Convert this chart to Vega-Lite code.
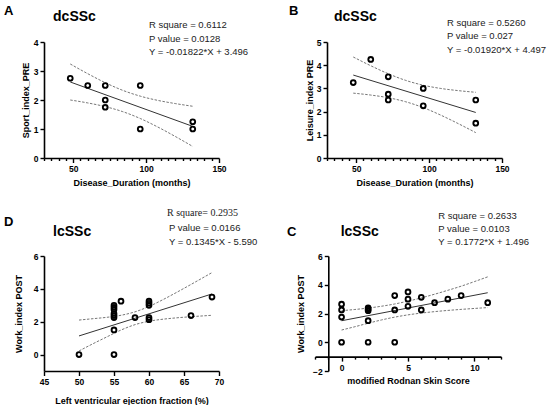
{
  "$schema": "https://vega.github.io/schema/vega-lite/v6.json",
  "background": "white",
  "padding": {"left": 3, "top": 5, "right": 0, "bottom": 0},
  "spacing": 21,
  "datasets": {
    "ptsA": [{"x":48,"y":2.75},{"x":60,"y":2.5},{"x":72,"y":2.5},{"x":72,"y":2.0},{"x":72,"y":1.75},{"x":96,"y":2.5},{"x":96,"y":1.0},{"x":132,"y":1.25},{"x":132,"y":1.0}],
    "fitA": [{"x":48,"y":2.621},{"x":132,"y":1.091}],
    "bandA": [
      {"x":48,"y":3.242,"s":"u"},{"x":60,"y":2.907,"s":"u"},{"x":72,"y":2.597,"s":"u"},{"x":84,"y":2.333,"s":"u"},{"x":96,"y":2.133,"s":"u"},{"x":108,"y":1.987,"s":"u"},{"x":120,"y":1.877,"s":"u"},{"x":132,"y":1.784,"s":"u"},
      {"x":48,"y":2.0,"s":"l"},{"x":60,"y":1.899,"s":"l"},{"x":72,"y":1.772,"s":"l"},{"x":84,"y":1.598,"s":"l"},{"x":96,"y":1.362,"s":"l"},{"x":108,"y":1.069,"s":"l"},{"x":120,"y":0.743,"s":"l"},{"x":132,"y":0.398,"s":"l"}
    ],
    "ptsB": [{"x":48,"y":3.25},{"x":60,"y":4.25},{"x":72,"y":3.5},{"x":72,"y":2.75},{"x":72,"y":2.5},{"x":96,"y":3.0},{"x":96,"y":2.25},{"x":132,"y":2.5},{"x":132,"y":1.5}],
    "fitB": [{"x":48,"y":3.575},{"x":132,"y":1.963}],
    "bandB": [
      {"x":48,"y":4.354,"s":"u"},{"x":60,"y":3.977,"s":"u"},{"x":72,"y":3.632,"s":"u"},{"x":84,"y":3.345,"s":"u"},{"x":96,"y":3.137,"s":"u"},{"x":108,"y":2.998,"s":"u"},{"x":120,"y":2.904,"s":"u"},{"x":132,"y":2.832,"s":"u"},
      {"x":48,"y":2.796,"s":"l"},{"x":60,"y":2.713,"s":"l"},{"x":72,"y":2.598,"s":"l"},{"x":84,"y":2.423,"s":"l"},{"x":96,"y":2.171,"s":"l"},{"x":108,"y":1.848,"s":"l"},{"x":120,"y":1.482,"s":"l"},{"x":132,"y":1.094,"s":"l"}
    ],
    "ptsD": [{"x":50,"y":0},{"x":55,"y":0},{"x":55,"y":1.5},{"x":55,"y":2.25},{"x":55,"y":2.375},{"x":55,"y":2.5},{"x":55,"y":2.75},{"x":55,"y":2.875},{"x":55,"y":3.0},{"x":56,"y":3.25},{"x":58,"y":2.25},{"x":60,"y":2.125},{"x":60,"y":2.25},{"x":60,"y":3.0},{"x":60,"y":3.125},{"x":60,"y":3.25},{"x":66,"y":2.375},{"x":69,"y":3.5}],
    "fitD": [{"x":50,"y":1.135},{"x":69,"y":3.69}],
    "bandD": [
      {"x":50,"y":2.1,"s":"u"},{"x":52,"y":2.184,"s":"u"},{"x":54,"y":2.269,"s":"u"},{"x":56,"y":2.392,"s":"u"},{"x":58,"y":2.601,"s":"u"},{"x":60,"y":2.93,"s":"u"},{"x":62,"y":3.345,"s":"u"},{"x":64,"y":3.798,"s":"u"},{"x":66,"y":4.269,"s":"u"},{"x":68,"y":4.749,"s":"u"},{"x":69,"y":4.99,"s":"u"},
      {"x":50,"y":0.22,"s":"l"},{"x":52,"y":0.66,"s":"l"},{"x":54,"y":1.08,"s":"l"},{"x":56,"y":1.492,"s":"l"},{"x":58,"y":1.821,"s":"l"},{"x":60,"y":2.03,"s":"l"},{"x":62,"y":2.153,"s":"l"},{"x":64,"y":2.238,"s":"l"},{"x":66,"y":2.305,"s":"l"},{"x":68,"y":2.363,"s":"l"},{"x":69,"y":2.391,"s":"l"}
    ],
    "ptsC": [{"x":0,"y":2.65},{"x":0,"y":2.25},{"x":0,"y":1.75},{"x":0,"y":0},{"x":2,"y":2.4},{"x":2,"y":2.3},{"x":2,"y":2.2},{"x":2,"y":1.5},{"x":2,"y":0},{"x":4,"y":3.25},{"x":4,"y":2.25},{"x":4,"y":0},{"x":5,"y":3.5},{"x":5,"y":3.0},{"x":5,"y":2.5},{"x":6,"y":3.125},{"x":6,"y":2.25},{"x":7,"y":2.75},{"x":8,"y":3.0},{"x":9,"y":3.25},{"x":11,"y":2.75}],
    "fitC": [{"x":0,"y":1.496},{"x":11,"y":3.445}],
    "bandC": [
      {"x":0,"y":2.196,"s":"u"},{"x":1,"y":2.279,"s":"u"},{"x":2,"y":2.379,"s":"u"},{"x":3,"y":2.505,"s":"u"},{"x":4,"y":2.663,"s":"u"},{"x":5,"y":2.859,"s":"u"},{"x":6,"y":3.088,"s":"u"},{"x":7,"y":3.342,"s":"u"},{"x":8,"y":3.614,"s":"u"},{"x":9,"y":3.9,"s":"u"},{"x":10,"y":4.22,"s":"u"},{"x":11,"y":4.55,"s":"u"},
      {"x":0,"y":0.85,"s":"l"},{"x":1,"y":1.08,"s":"l"},{"x":2,"y":1.321,"s":"l"},{"x":3,"y":1.551,"s":"l"},{"x":4,"y":1.747,"s":"l"},{"x":5,"y":1.905,"s":"l"},{"x":6,"y":2.03,"s":"l"},{"x":7,"y":2.13,"s":"l"},{"x":8,"y":2.214,"s":"l"},{"x":9,"y":2.286,"s":"l"},{"x":10,"y":2.351,"s":"l"},{"x":11,"y":2.412,"s":"l"}
    ]
  },
  "vconcat": [
    {
      "spacing": 39,
      "hconcat": [
        {
          "width": 175,
          "height": 116,
          "layer": [
            {
              "encoding": {
                "x": {"field": "x", "type": "quantitative", "title": "Disease_Duration (months)", "scale": {"domain": [30, 150], "nice": false, "zero": false},
                  "axis": {"values": [30,35,40,45,50,55,60,65,70,75,80,85,90,95,100,105,110,115,120,125,130,135,140,145,150], "labelExpr": "datum.value % 50 === 0 ? datum.label : ''", "tickSize": {"condition": {"test": "datum.value % 50 === 0", "value": 4.5}, "value": 2.5}, "titlePadding": 5}},
                "y": {"field": "y", "type": "quantitative", "title": "Sport_index_PRE", "scale": {"domain": [0, 4], "nice": false, "zero": false},
                  "axis": {"values": [0,1,2,3,4], "titlePadding": 3}}
              },
              "layer": [
                {"data": {"name": "bandA"}, "mark": {"type": "line", "color": "#666", "strokeWidth": 0.9, "strokeDash": [2.5, 1.5], "interpolate": "monotone"}, "encoding": {"detail": {"field": "s"}}},
                {"data": {"name": "fitA"}, "mark": {"type": "line", "color": "#333", "strokeWidth": 1}, "encoding": {}},
                {"data": {"name": "ptsA"}, "mark": {"type": "point", "filled": false, "stroke": "#000", "strokeWidth": 1.9, "size": 23, "opacity": 1}}
              ]
            },
            {
              "encoding": {
                "x": {"datum": 0, "type": "quantitative", "title": "Disease_Duration (months)", "scale": {"domain": [30, 150], "nice": false, "zero": false},
                  "axis": {"values": [30,35,40,45,50,55,60,65,70,75,80,85,90,95,100,105,110,115,120,125,130,135,140,145,150], "labelExpr": "datum.value % 50 === 0 ? datum.label : ''", "tickSize": {"condition": {"test": "datum.value % 50 === 0", "value": 4.5}, "value": 2.5}, "titlePadding": 5}},
                "y": {"datum": 0, "type": "quantitative", "title": "Sport_index_PRE", "scale": {"domain": [0, 4], "nice": false, "zero": false},
                  "axis": {"values": [0,1,2,3,4], "titlePadding": 3}}
              },
              "layer": [
                {"data": {"values": [{"t": "A"}]}, "mark": {"type": "text", "align": "left", "baseline": "alphabetic", "fontSize": 13, "fontWeight": "bold", "color": "#000"},
                  "encoding": {"x": {"datum": 2.56}, "y": {"datum": 4.93}, "text": {"field": "t"}}},
                {"data": {"values": [{"t": "dcSSc"}]}, "mark": {"type": "text", "align": "left", "baseline": "alphabetic", "fontSize": 14, "fontWeight": "bold", "color": "#000"},
                  "encoding": {"x": {"datum": 36.2}, "y": {"datum": 4.72}, "text": {"field": "t"}}},
                {"data": {"values": [{"t": "R square = 0.6112\nP value = 0.0128\nY = -0.01822*X + 3.496"}]}, "mark": {"type": "text", "align": "left", "baseline": "alphabetic", "fontSize": 9.5, "lineBreak": "\n", "lineHeight": 13.5, "color": "#222"},
                  "encoding": {"x": {"datum": 102}, "y": {"datum": 4.48}, "text": {"field": "t"}}}
              ]
            }
          ]
        },
        {
          "width": 175,
          "height": 116,
          "layer": [
            {
              "encoding": {
                "x": {"field": "x", "type": "quantitative", "title": "Disease_Duration (months)", "scale": {"domain": [30, 150], "nice": false, "zero": false},
                  "axis": {"values": [30,35,40,45,50,55,60,65,70,75,80,85,90,95,100,105,110,115,120,125,130,135,140,145,150], "labelExpr": "datum.value % 50 === 0 ? datum.label : ''", "tickSize": {"condition": {"test": "datum.value % 50 === 0", "value": 4.5}, "value": 2.5}, "titlePadding": 5}},
                "y": {"field": "y", "type": "quantitative", "title": "Leisure_index PRE", "scale": {"domain": [0, 5], "nice": false, "zero": false},
                  "axis": {"values": [0,1,2,3,4,5], "titlePadding": 2}}
              },
              "layer": [
                {"data": {"name": "bandB"}, "mark": {"type": "line", "color": "#666", "strokeWidth": 0.9, "strokeDash": [2.5, 1.5], "interpolate": "monotone"}, "encoding": {"detail": {"field": "s"}}},
                {"data": {"name": "fitB"}, "mark": {"type": "line", "color": "#333", "strokeWidth": 1}, "encoding": {}},
                {"data": {"name": "ptsB"}, "mark": {"type": "point", "filled": false, "stroke": "#000", "strokeWidth": 1.9, "size": 23, "opacity": 1}}
              ]
            },
            {
              "encoding": {
                "x": {"datum": 0, "type": "quantitative", "title": "Disease_Duration (months)", "scale": {"domain": [30, 150], "nice": false, "zero": false},
                  "axis": {"values": [30,35,40,45,50,55,60,65,70,75,80,85,90,95,100,105,110,115,120,125,130,135,140,145,150], "labelExpr": "datum.value % 50 === 0 ? datum.label : ''", "tickSize": {"condition": {"test": "datum.value % 50 === 0", "value": 4.5}, "value": 2.5}, "titlePadding": 5}},
                "y": {"datum": 0, "type": "quantitative", "title": "Leisure_index PRE", "scale": {"domain": [0, 5], "nice": false, "zero": false},
                  "axis": {"values": [0,1,2,3,4,5], "titlePadding": 2}}
              },
              "layer": [
                {"data": {"values": [{"t": "B"}]}, "mark": {"type": "text", "align": "left", "baseline": "alphabetic", "fontSize": 13, "fontWeight": "bold", "color": "#000"},
                  "encoding": {"x": {"datum": 3.94}, "y": {"datum": 6.16}, "text": {"field": "t"}}},
                {"data": {"values": [{"t": "dcSSc"}]}, "mark": {"type": "text", "align": "left", "baseline": "alphabetic", "fontSize": 14, "fontWeight": "bold", "color": "#000"},
                  "encoding": {"x": {"datum": 34.8}, "y": {"datum": 5.92}, "text": {"field": "t"}}},
                {"data": {"values": [{"t": "R square = 0.5260\nP value = 0.027\nY = -0.01920*X + 4.497"}]}, "mark": {"type": "text", "align": "left", "baseline": "alphabetic", "fontSize": 9.5, "lineBreak": "\n", "lineHeight": 13.5, "color": "#222"},
                  "encoding": {"x": {"datum": 112.3}, "y": {"datum": 5.69}, "text": {"field": "t"}}}
              ]
            }
          ]
        }
      ]
    },
    {
      "spacing": 28,
      "hconcat": [
        {
          "width": 175,
          "height": 115,
          "layer": [
            {
              "encoding": {
                "x": {"field": "x", "type": "quantitative", "title": "Left ventricular ejection fraction (%)", "scale": {"domain": [45, 70], "nice": false, "zero": false},
                  "axis": {"values": [45,50,55,60,65,70], "tickSize": 4.5, "titlePadding": 10}},
                "y": {"field": "y", "type": "quantitative", "title": "Work_index POST", "scale": {"domain": [-1, 6], "nice": false, "zero": false},
                  "axis": {"values": [0,2,4,6], "titlePadding": 10}}
              },
              "layer": [
                {"data": {"name": "bandD"}, "mark": {"type": "line", "color": "#666", "strokeWidth": 0.9, "strokeDash": [2.5, 1.5], "interpolate": "monotone"}, "encoding": {"detail": {"field": "s"}}},
                {"data": {"name": "fitD"}, "mark": {"type": "line", "color": "#333", "strokeWidth": 1}, "encoding": {}},
                {"data": {"name": "ptsD"}, "mark": {"type": "point", "filled": false, "stroke": "#000", "strokeWidth": 1.9, "size": 23, "opacity": 1}}
              ]
            },
            {
              "encoding": {
                "x": {"datum": 0, "type": "quantitative", "title": "Left ventricular ejection fraction (%)", "scale": {"domain": [45, 70], "nice": false, "zero": false},
                  "axis": {"values": [45,50,55,60,65,70], "tickSize": 4.5, "titlePadding": 10}},
                "y": {"datum": 0, "type": "quantitative", "title": "Work_index POST", "scale": {"domain": [-1, 6], "nice": false, "zero": false},
                  "axis": {"values": [0,2,4,6], "titlePadding": 10}}
              },
              "layer": [
                {"data": {"values": [{"t": "D"}]}, "mark": {"type": "text", "align": "left", "baseline": "alphabetic", "fontSize": 13, "fontWeight": "bold", "color": "#000"},
                  "encoding": {"x": {"datum": 39.29}, "y": {"datum": 7.83}, "text": {"field": "t"}}},
                {"data": {"values": [{"t": "lcSSc"}]}, "mark": {"type": "text", "align": "left", "baseline": "alphabetic", "fontSize": 14, "fontWeight": "bold", "color": "#000"},
                  "encoding": {"x": {"datum": 46.29}, "y": {"datum": 7.22}, "text": {"field": "t"}}},
                {"data": {"values": [{"t": "R square= 0.2935"}]}, "mark": {"type": "text", "align": "left", "baseline": "alphabetic", "font": "Liberation Serif", "fontSize": 10, "color": "#222"},
                  "encoding": {"x": {"datum": 62.57}, "y": {"datum": 8.42}, "text": {"field": "t"}}},
                {"data": {"values": [{"t": "P value = 0.0166\nY = 0.1345*X - 5.590"}]}, "mark": {"type": "text", "align": "left", "baseline": "alphabetic", "fontSize": 9.5, "lineBreak": "\n", "lineHeight": 13.5, "color": "#222"},
                  "encoding": {"x": {"datum": 62.86}, "y": {"datum": 7.5}, "text": {"field": "t"}}}
              ]
            }
          ]
        },
        {
          "width": 186,
          "height": 115,
          "layer": [
            {
              "encoding": {
                "x": {"field": "x", "type": "quantitative", "title": "modified Rodnan Skin Score", "scale": {"domain": [-2, 12], "nice": false, "zero": false},
                  "axis": {"values": [-2,-1,0,1,2,3,4,5,6,7,8,9,10,11,12], "offset": -14.4, "labelExpr": "datum.value % 5 === 0 ? datum.label : ''", "tickSize": {"condition": {"test": "datum.value % 5 === 0", "value": 4.5}, "value": 2.5}, "titlePadding": 5}},
                "y": {"field": "y", "type": "quantitative", "title": "Work_index POST", "scale": {"domain": [-2, 6], "nice": false, "zero": false},
                  "axis": {"values": [-2,0,2,4,6], "offset": -13.3, "titlePadding": 7}}
              },
              "layer": [
                {"data": {"name": "bandC"}, "mark": {"type": "line", "color": "#666", "strokeWidth": 0.9, "strokeDash": [2.5, 1.5], "interpolate": "monotone"}, "encoding": {"detail": {"field": "s"}}},
                {"data": {"name": "fitC"}, "mark": {"type": "line", "color": "#333", "strokeWidth": 1}, "encoding": {}},
                {"data": {"name": "ptsC"}, "mark": {"type": "point", "filled": false, "stroke": "#000", "strokeWidth": 1.9, "size": 23, "opacity": 1}}
              ]
            },
            {
              "encoding": {
                "x": {"datum": 0, "type": "quantitative", "title": "modified Rodnan Skin Score", "scale": {"domain": [-2, 12], "nice": false, "zero": false},
                  "axis": {"values": [-2,-1,0,1,2,3,4,5,6,7,8,9,10,11,12], "offset": -14.4, "labelExpr": "datum.value % 5 === 0 ? datum.label : ''", "tickSize": {"condition": {"test": "datum.value % 5 === 0", "value": 4.5}, "value": 2.5}, "titlePadding": 5}},
                "y": {"datum": 0, "type": "quantitative", "title": "Work_index POST", "scale": {"domain": [-2, 6], "nice": false, "zero": false},
                  "axis": {"values": [-2,0,2,4,6], "offset": -13.3, "titlePadding": 7}}
              },
              "layer": [
                {"data": {"values": [{"t": "C"}]}, "mark": {"type": "text", "align": "left", "baseline": "alphabetic", "fontSize": 13, "fontWeight": "bold", "color": "#000"},
                  "encoding": {"x": {"datum": -4.11}, "y": {"datum": 7.39}, "text": {"field": "t"}}},
                {"data": {"values": [{"t": "lcSSc"}]}, "mark": {"type": "text", "align": "left", "baseline": "alphabetic", "fontSize": 14, "fontWeight": "bold", "color": "#000"},
                  "encoding": {"x": {"datum": -0.07}, "y": {"datum": 7.39}, "text": {"field": "t"}}},
                {"data": {"values": [{"t": "R square = 0.2633\nP value = 0.0103\nY = 0.1772*X + 1.496"}]}, "mark": {"type": "text", "align": "left", "baseline": "alphabetic", "fontSize": 9.5, "lineBreak": "\n", "lineHeight": 13, "color": "#222"},
                  "encoding": {"x": {"datum": 7.28}, "y": {"datum": 8.57}, "text": {"field": "t"}}}
              ]
            }
          ]
        }
      ]
    }
  ],
  "config": {
    "font": "Liberation Sans",
    "view": {"stroke": null},
    "axis": {
      "grid": false,
      "domainColor": "#000",
      "domainWidth": 1.6,
      "tickColor": "#000",
      "tickWidth": 1.4,
      "tickSize": 4,
      "labelFont": "Liberation Sans",
      "labelFontSize": 8.5,
      "labelFontWeight": "bold",
      "labelColor": "#000",
      "labelPadding": 2,
      "labelFlush": false,
      "labelOverlap": false,
      "titleFont": "Liberation Sans",
      "titleFontSize": 9,
      "titleFontWeight": "bold",
      "titleColor": "#000"
    }
  }
}
